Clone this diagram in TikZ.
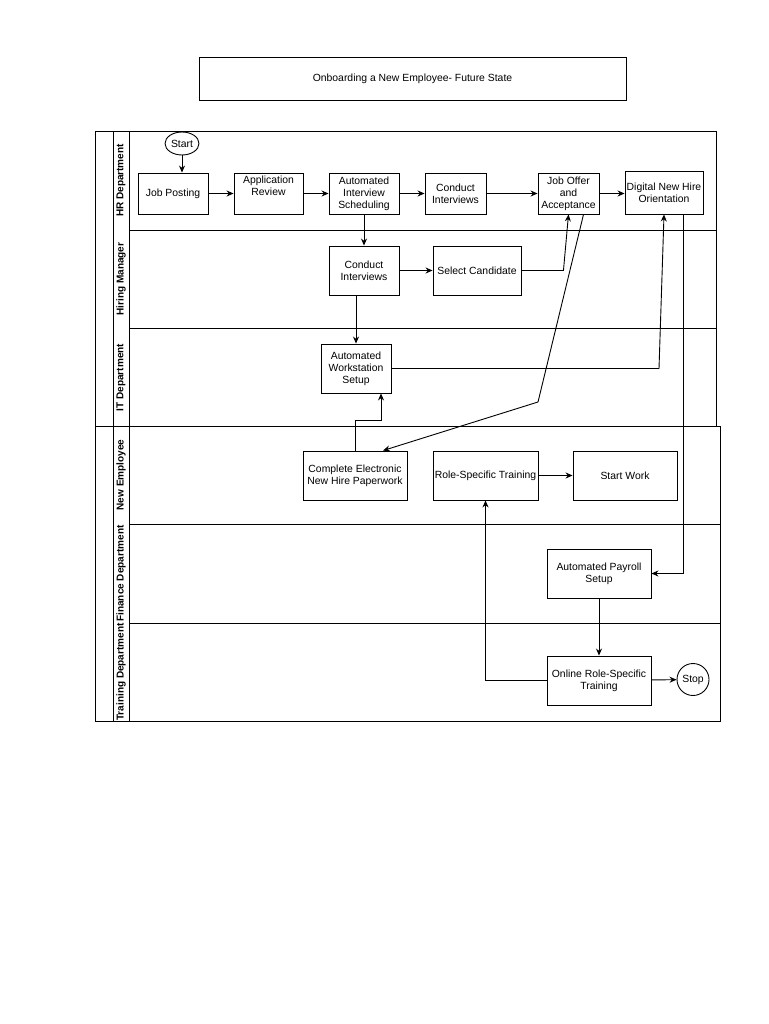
\documentclass[tikz,border=0pt]{standalone}
\usepackage{fontspec}
\setmainfont{Liberation Sans}
\usetikzlibrary{arrows.meta,shapes.geometric}

\begin{document}
\begin{tikzpicture}[x=1pt, y=-1pt,
	box/.style={draw, line width=0.9pt, align=center, inner sep=1pt, font=\fontsize{10.4}{12}\selectfont},
	lane/.style={rotate=90, font=\bfseries\fontsize{10}{12}\selectfont},
	flow/.style={line width=0.9pt, -{Stealth[length=7pt, width=6pt]}}]
	\useasboundingbox (0,0) rectangle (768,1024);
	
	\node[box, minimum width=427pt, minimum height=43pt] (title) at (412.5,78.5) {Onboarding a New Employee- Future State};
	
	\draw[line width=0.9pt] (95,426) -- (95,131) -- (716,131) -- (716,426);
	\draw[line width=0.9pt] (113,131) -- (113,426);
	\draw[line width=0.9pt] (129,131) -- (129,426);
	\draw[line width=0.9pt] (129,230) -- (716,230);
	\draw[line width=0.9pt] (129,328) -- (716,328);
	
	\draw[line width=0.9pt] (95,426) rectangle (720,721);
	\draw[line width=0.9pt] (113,426) -- (113,721);
	\draw[line width=0.9pt] (129,426) -- (129,721);
	\draw[line width=0.9pt] (129,524) -- (720,524);
	\draw[line width=0.9pt] (129,623) -- (720,623);
	
	\node[lane] (hr) at (121,180.5) {HR Department};
	\node[lane] (manager) at (121,279) {Hiring Manager};
	\node[lane] (it) at (121,377.5) {IT Department};
	\node[lane] (employee) at (121,475) {New Employee};
	\node[lane] (finance) at (121,573.5) {Finance Department};
	\node[lane] (trainingdept) at (121,672) {Training Department};
	
	\node[box, ellipse, minimum width=34pt, minimum height=23pt] (start) at (182,143.5) {Start};
	\node[box, minimum width=70pt, minimum height=41pt] (post) at (173,193.5) {Job Posting};
	\node[box, minimum width=69pt, minimum height=41pt, text depth=16pt] (review) at (268.5,193.5) {Application\\Review};
	\node[box, minimum width=70pt, minimum height=41pt] (sched) at (364,193.5) {Automated\\Interview\\Scheduling};
	\node[box, minimum width=61pt, minimum height=41pt] (interviewA) at (455.5,193.5) {Conduct\\Interviews};
	\node[box, minimum width=61pt, minimum height=41pt] (offer) at (568.5,193.5) {Job Offer\\and\\Acceptance};
	\node[box, minimum width=78pt, minimum height=43pt] (orient) at (664,192.5) {Digital New Hire\\Orientation};
	
	\node[box, minimum width=70pt, minimum height=49pt] (interviewB) at (364,270.5) {Conduct\\Interviews};
	\node[box, minimum width=88pt, minimum height=49pt] (select) at (477,270.5) {Select Candidate};
	
	\node[box, minimum width=70pt, minimum height=49pt] (setup) at (356,368.5) {Automated\\Workstation\\Setup};
	
	\node[box, minimum width=104pt, minimum height=49pt] (paperwork) at (355,475.5) {Complete Electronic\\New Hire Paperwork};
	\node[box, minimum width=105pt, minimum height=49pt] (training) at (485.5,475.5) {Role-Specific Training};
	\node[box, minimum width=104pt, minimum height=49pt] (work) at (625,475.5) {Start Work};
	
	\node[box, minimum width=104pt, minimum height=49pt] (payroll) at (599,573.5) {Automated Payroll\\Setup};
	
	\node[box, minimum width=104pt, minimum height=49pt] (online) at (599,680.5) {Online Role-Specific\\Training};
	\node[box, circle, minimum size=32pt] (stop) at (693,679.5) {Stop};
	
	\draw[flow] (start) -- (start |- post.north);
	\draw[flow] (post) -- (review);
	\draw[flow] (review) -- (sched);
	\draw[flow] (sched) -- (interviewA);
	\draw[flow] (interviewA) -- (offer);
	\draw[flow] (offer.east) -- (offer.east -| orient.west);
	\draw[flow] (sched) -- (interviewB);
	\draw[flow] (interviewB) -- (select);
	\draw[flow] (select.east) -- ++(42,0) -- (offer.south);
	\draw[flow] (interviewB.south -| setup.north) -- (setup.north);
	\draw[flow] (setup.east) -- (659,368.5) -- (orient.south);
	\draw[flow] ([xshift=15pt]offer.south) -- (538,402) -- ([xshift=28pt]paperwork.north);
	\draw[flow] (paperwork.north) -- ++(0,-30) -| ([xshift=25pt]setup.south);
	\draw[flow] ([xshift=19pt]orient.south) |- (payroll.east);
	\draw[flow] (payroll) -- (online);
	\draw[flow] (online) -- (stop);
	\draw[flow] (online.west) -| (training.south);
	\draw[flow] (training) -- (work);
\end{tikzpicture}
\end{document}
